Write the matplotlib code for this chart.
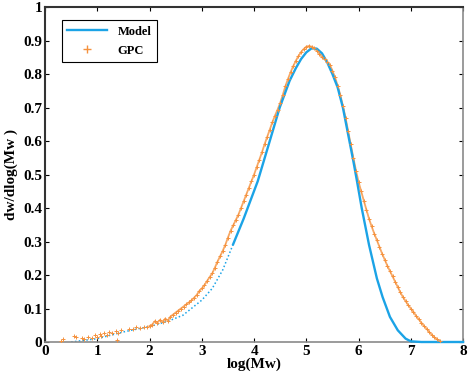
import matplotlib
matplotlib.use("Agg")
import matplotlib.pyplot as plt

plt.rcParams['font.family'] = ['Liberation Serif', 'DejaVu Serif']
plt.rcParams['font.weight'] = 'bold'

# model curve
model_x = [0.5, 1.0, 1.5, 1.8, 2.0, 2.2, 2.4, 2.64, 2.8, 3.0, 3.2, 3.4, 3.6, 3.8,
           4.07, 4.3, 4.49, 4.68, 4.8, 4.9, 5.0, 5.1, 5.2, 5.3, 5.4, 5.5, 5.6,
           5.7, 5.8, 5.9, 5.97, 6.06, 6.2, 6.35, 6.46, 6.6, 6.75, 6.9, 7.0,
           7.2, 7.5, 8.0]
model_y = [0.0, 0.01, 0.03, 0.04, 0.046, 0.055, 0.065, 0.08, 0.10, 0.125, 0.16,
           0.215, 0.292, 0.368, 0.48, 0.60, 0.70, 0.78, 0.818, 0.845, 0.865,
           0.877, 0.876, 0.862, 0.835, 0.80, 0.76, 0.70, 0.62, 0.54, 0.48,
           0.40, 0.29, 0.19, 0.134, 0.075, 0.035, 0.01, 0.002, 0.0, 0.0, 0.0]

# GPC measurements
gpc_x = [0.30, 0.35, 0.55, 0.60, 0.70, 0.75, 0.82, 0.90, 0.95, 1.00, 1.05, 1.08,
         1.12, 1.18, 1.22, 1.28, 1.35, 1.38, 1.40, 1.45, 1.60, 1.68, 1.75, 1.82,
         1.90, 1.95,
         2.00, 2.05, 2.10, 2.15, 2.20, 2.25, 2.30, 2.35, 2.40, 2.45, 2.50, 2.55,
         2.60, 2.65, 2.70, 2.75, 2.80, 2.85, 2.90, 2.95, 3.00, 3.05, 3.10, 3.15,
         3.20, 3.25, 3.30, 3.35, 3.40, 3.45, 3.50, 3.55, 3.60, 3.65, 3.70, 3.75,
         3.80, 3.85, 3.90, 3.95, 4.00, 4.05, 4.10, 4.15, 4.20, 4.25, 4.30, 4.35,
         4.40, 4.45, 4.50, 4.55, 4.60, 4.65, 4.70, 4.75, 4.80, 4.85, 4.90, 4.95,
         5.00, 5.05, 5.10, 5.15, 5.20, 5.25, 5.30, 5.35, 5.40, 5.45, 5.50, 5.55,
         5.60, 5.65, 5.70, 5.75, 5.80, 5.85, 5.90, 5.95, 6.00, 6.05, 6.10, 6.15,
         6.20, 6.25, 6.30, 6.35, 6.40, 6.45, 6.50, 6.55, 6.60, 6.65, 6.70, 6.75,
         6.80, 6.85, 6.90, 6.95, 7.00, 7.05, 7.10, 7.15, 7.20, 7.25, 7.30, 7.35,
         7.40, 7.45, 7.50, 7.55]
gpc_y = [0.004, 0.010, 0.018, 0.016, 0.012, 0.010, 0.014, 0.012, 0.020, 0.016,
         0.024, 0.018, 0.028, 0.022, 0.030, 0.026, 0.034, 0.006, 0.028, 0.036,
         0.040, 0.038, 0.044, 0.042, 0.046, 0.044,
         0.048, 0.052, 0.062, 0.058, 0.066, 0.060, 0.070, 0.064, 0.076, 0.082,
         0.088, 0.094, 0.100, 0.106, 0.112, 0.118, 0.124, 0.132, 0.140, 0.152,
         0.160, 0.170, 0.182, 0.194, 0.205, 0.222, 0.240, 0.256, 0.272, 0.290,
         0.312, 0.332, 0.348, 0.364, 0.380, 0.400, 0.420, 0.440, 0.460, 0.480,
         0.500, 0.522, 0.544, 0.566, 0.590, 0.612, 0.634, 0.656, 0.676, 0.694,
         0.714, 0.738, 0.764, 0.786, 0.806, 0.824, 0.840, 0.854, 0.866, 0.875,
         0.882, 0.884, 0.882, 0.878, 0.870, 0.861, 0.850, 0.844, 0.837, 0.828,
         0.810, 0.790, 0.765, 0.738, 0.705, 0.670, 0.630, 0.590, 0.550, 0.512,
         0.478, 0.450, 0.422, 0.395, 0.368, 0.345, 0.324, 0.304, 0.284, 0.264,
         0.246, 0.228, 0.212, 0.196, 0.180, 0.164, 0.148, 0.134, 0.122, 0.110,
         0.100, 0.090, 0.078, 0.068, 0.058, 0.048, 0.040, 0.030, 0.022, 0.014,
         0.008, 0.004]

blue = '#1ba3e6'
orange = '#f5923e'

fig = plt.figure(figsize=(4.74, 3.75), dpi=100)
ax = fig.add_axes([0.095, 0.088, 0.882, 0.893])

# left part of the model looks dotted, right part solid
split = 12
ax.plot(model_x[:split + 1], model_y[:split + 1], color=blue, lw=1.1,
        linestyle=(0, (1, 1.5)))
ax.plot(model_x[split:], model_y[split:], color=blue, lw=1.7, label='Model',
        clip_on=False, zorder=3)

# dense GPC trace: thin line under the main body plus '+' markers
body = 26
ax.plot(gpc_x[body:], gpc_y[body:], color=orange, lw=1.3, alpha=0.8, zorder=2)
ax.plot(gpc_x, gpc_y, '+', color=orange, ms=3.5, mew=0.7, label='GPC', zorder=4)

ax.set_xlim(0, 8)
ax.set_ylim(0, 1)
ax.set_xticks(range(0, 9))
ax.set_yticks([i / 10 for i in range(11)])
ax.set_yticklabels(['0', '0.1', '0.2', '0.3', '0.4', '0.5', '0.6', '0.7',
                    '0.8', '0.9', '1'])
ax.tick_params(direction='in', top=True, right=True, labelsize=11,
               length=3, width=0.8, pad=2)

for s in ['top', 'left']:
    ax.spines[s].set_color('#333333')
    ax.spines[s].set_linewidth(1.5)
for s in ['bottom', 'right']:
    ax.spines[s].set_color('#8a8a8a')
    ax.spines[s].set_linewidth(1.2)

ax.set_xlabel('log(Mw)', fontsize=11, fontweight='bold', labelpad=0)
ax.set_ylabel('dw/dlog(Mw )', fontsize=11, fontweight='bold', labelpad=4)

leg = ax.legend(loc='upper left', bbox_to_anchor=(0.025, 0.98),
                prop={'size': 9, 'weight': 'bold'}, fancybox=False,
                edgecolor='black', framealpha=1, borderpad=0.45,
                labelspacing=0.55, handlelength=3.2)
leg.get_frame().set_linewidth(0.8)
leg.legend_handles[1].set_markersize(6)
leg.legend_handles[1].set_markeredgewidth(1.0)

fig.savefig('out.png', dpi=100)
